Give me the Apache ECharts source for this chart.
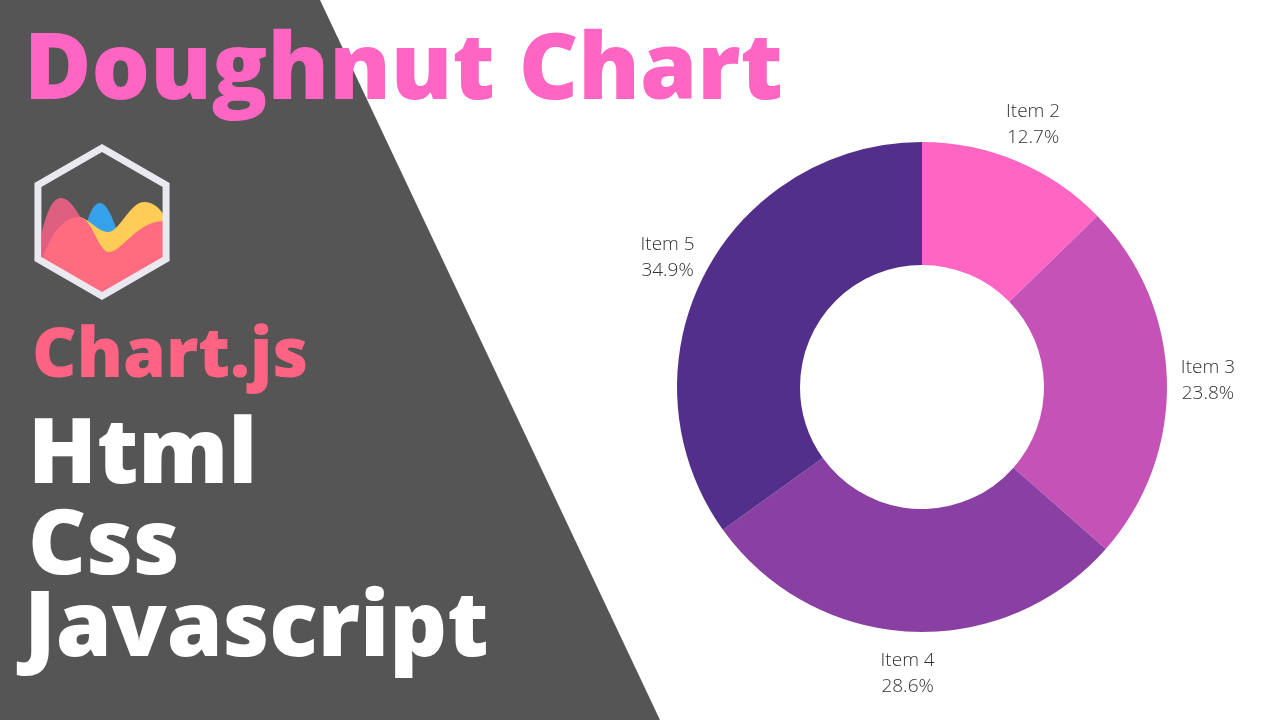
<!DOCTYPE html>
<html>
<head>
<meta charset="utf-8">
<script src="https://cdn.jsdelivr.net/npm/echarts@6/dist/echarts.min.js"></script>
<style>
html,body{margin:0;padding:0;background:#fff;}
#chart{width:1280px;height:720px;}
</style>
</head>
<body>
<div id="chart"></div>
<script>
const categories = ['Item 2', 'Item 3', 'Item 4', 'Item 5'];
const values = [12.7, 23.8, 28.6, 34.9];
const sliceColors = ['#ff66c4', '#c452b7', '#8a40a3', '#522f8a'];

const logoPaths = {
  logoBack: 'M42 262 L42 232 C48 206 55 197 62 198 C72 200 78 214 86 226 L86 262 Z',
  logoBlue: 'M86 226 C90 210 95 203 100 203 C106 203 112 215 118 234 L100 250 Z',
  logoYellow: 'M80 217 C92 221 98 232 108 232 C120 232 130 201 145 202 C155 203 160 209 163 214 L163 245 L100 262 Z',
  logoFront: 'M42 260 C50 236 62 218 78 217 C92 216 98 252 109 252 C122 252 136 222 163 221 L163 262 L102 297 L42 262 Z'
};
Object.keys(logoPaths).forEach(k => {
  echarts.graphic.registerShape(k, echarts.graphic.extendPath(logoPaths[k], {}));
});

const chart = echarts.init(document.getElementById('chart'), null, {renderer: 'canvas'});
const pieData = categories.map((c, i) => ({name: c, value: values[i], itemStyle: {color: sliceColors[i]}}));
const labelData = categories.map((c, i) => ({name: c, value: values[i]}));

const cx = 922, cy = 387;
function hexPoints(x, y, r) {
  const pts = [];
  for (let k = 0; k < 6; k++) {
    const a = -Math.PI / 2 + k * Math.PI / 3;
    pts.push([x + r * Math.cos(a), y + r * Math.sin(a)]);
  }
  return pts;
}
function bf(s) { return '800 ' + s + 'px "Open Sans", "Noto Sans", sans-serif'; }

chart.setOption({
  animation: false,
  backgroundColor: '#ffffff',
  graphic: [
    {type: 'polygon', shape: {points: [[0,0],[320,0],[660,720],[0,720]]}, style: {fill: '#555555'}, z: 0},
    {type: 'logoBack', style: {fill: '#df5f80'}, z: 1},
    {type: 'logoBlue', style: {fill: '#36a2eb'}, z: 2},
    {type: 'logoYellow', style: {fill: '#ffcd56'}, z: 3},
    {type: 'logoFront', style: {fill: '#ff6b7f'}, z: 4},
    {type: 'polygon', shape: {points: hexPoints(102, 222, 74)}, style: {fill: 'none', stroke: '#e9e9ef', lineWidth: 7, lineJoin: 'miter'}, z: 5},
    {type: 'text', x: 24, y: 27, style: {text: 'Doughnut Chart', font: bf(92), fill: '#ff66c4'}, z: 6},
    {type: 'text', x: 32, y: 323, style: {text: 'Chart.js', font: bf(69), fill: '#ff6384'}, z: 6},
    {type: 'text', x: 28, y: 412, style: {text: 'Html', font: bf(90), fill: '#ffffff'}, z: 6},
    {type: 'text', x: 28, y: 503, style: {text: 'Css', font: bf(90), fill: '#ffffff'}, z: 6},
    {type: 'text', x: 24, y: 585, style: {text: 'Javascript', font: bf(90), fill: '#ffffff'}, z: 6}
  ],
  series: [
    {
      type: 'pie',
      center: [cx, cy],
      radius: [122, 245],
      startAngle: 90,
      clockwise: true,
      silent: true,
      label: {show: false},
      labelLine: {show: false},
      emphasis: {disabled: true},
      data: pieData
    },
    {
      type: 'pie',
      center: [cx, cy + 1],
      radius: [273, 293],
      startAngle: 90,
      clockwise: true,
      silent: true,
      percentPrecision: 1,
      itemStyle: {color: 'rgba(0,0,0,0)'},
      label: {
        show: true,
        position: 'inside',
        formatter: '{b}\n{d}%',
        color: '#333333',
        fontFamily: '"Open Sans", "Noto Sans", sans-serif',
        fontWeight: 300,
        fontSize: 19,
        lineHeight: 26,
        align: 'center'
      },
      labelLine: {show: false},
      emphasis: {disabled: true},
      data: labelData
    }
  ]
});
</script>
</body>
</html>
